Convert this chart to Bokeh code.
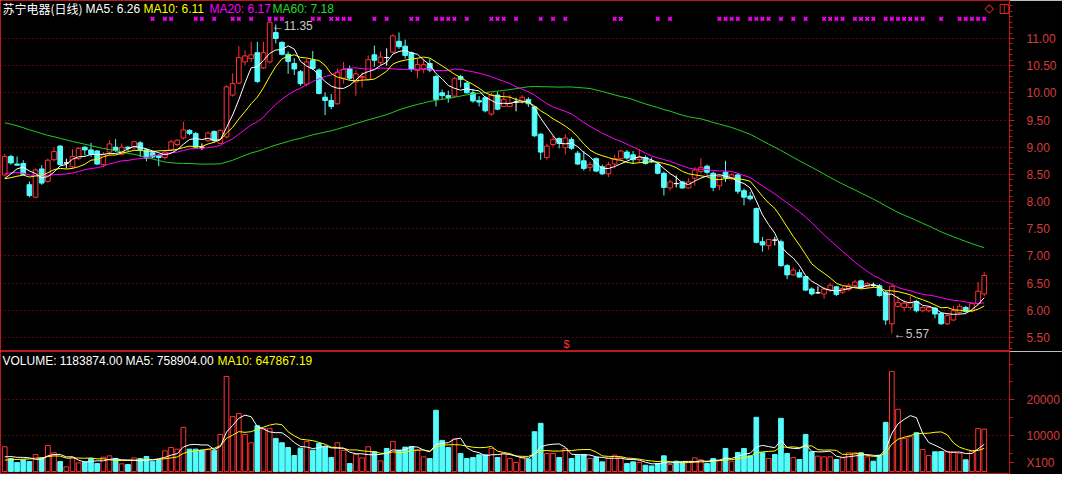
import numpy as np
import pandas as pd
from bokeh.plotting import figure
from bokeh.layouts import column
from bokeh.models import (ColumnDataSource, Range1d, FixedTicker, Label, NumeralTickFormatter,
                          CustomJSTickFormatter)
from bokeh.embed import file_html
from bokeh.resources import INLINE

# ---------------- data ----------------
open_ = [8.49, 8.83, 8.69, 8.70, 8.31, 8.08, 8.60, 8.37, 8.77, 9.02,
         8.71, 8.64, 8.79, 9.00, 8.95, 8.93, 8.68, 8.91, 9.00, 8.87,
         9.00, 8.99, 9.08, 8.95, 8.90, 8.85, 8.81, 8.95, 9.05, 9.17,
         9.31, 9.25, 9.00, 9.12, 9.29, 9.07, 9.19, 9.96, 10.18, 10.57,
         10.63, 10.74, 10.46, 10.57, 11.11, 10.93, 10.71, 10.54, 10.39, 10.16,
         10.60, 10.42, 9.92, 9.86, 9.80, 10.27, 10.44, 10.20, 10.28, 10.25,
         10.70, 10.56, 10.65, 10.75, 10.95, 10.86, 10.74, 10.41, 10.43, 10.54,
         10.30, 10.00, 9.95, 9.94, 10.30, 10.18, 10.00, 9.86, 9.91, 9.61,
         9.96, 9.75, 9.75, 9.83, 9.85, 9.88, 9.74, 9.24, 8.81, 9.05,
         9.16, 8.99, 9.14, 8.89, 8.75, 8.63, 8.79, 8.64, 8.51, 8.69,
         8.79, 8.91, 8.86, 8.77, 8.81, 8.75, 8.69, 8.52, 8.25, 8.33,
         8.36, 8.25, 8.43, 8.55, 8.65, 8.52, 8.29, 8.54, 8.42, 8.49,
         8.20, 8.10, 7.87, 7.26, 7.19, 7.29, 7.26, 6.82, 6.65, 6.69,
         6.62, 6.39, 6.32, 6.30, 6.37, 6.43, 6.33, 6.38, 6.45, 6.54,
         6.44, 6.46, 6.45, 6.33, 5.75, 6.07, 6.05, 6.05, 6.16, 5.99,
         5.99, 6.04, 5.94, 5.75, 5.82, 5.96, 6.05, 5.99, 6.12, 6.30]
high = [8.88, 8.86, 8.83, 8.76, 8.37, 8.61, 8.67, 8.79, 9.00, 9.04,
        8.79, 8.96, 9.00, 9.02, 9.08, 8.95, 8.91, 9.13, 9.15, 9.07,
        9.02, 9.11, 9.11, 8.98, 8.93, 8.87, 8.93, 9.14, 9.14, 9.47,
        9.33, 9.28, 9.07, 9.29, 9.31, 9.33, 10.14, 10.36, 10.86, 10.78,
        10.94, 10.94, 10.94, 11.35, 11.26, 10.95, 10.76, 10.64, 10.42, 10.62,
        10.77, 10.45, 10.01, 9.98, 10.45, 10.57, 10.50, 10.41, 10.38, 10.69,
        10.87, 10.76, 10.82, 11.08, 11.11, 10.98, 10.76, 10.63, 10.63, 10.63,
        10.33, 10.06, 10.04, 10.29, 10.33, 10.21, 10.07, 9.94, 9.94, 10.00,
        10.02, 10.02, 9.96, 9.91, 9.96, 9.92, 9.76, 9.26, 9.06, 9.21,
        9.18, 9.24, 9.18, 8.93, 8.93, 8.73, 8.81, 8.68, 8.73, 8.86,
        8.95, 8.95, 8.93, 8.96, 8.85, 8.81, 8.73, 8.55, 8.40, 8.48,
        8.38, 8.43, 8.63, 8.80, 8.68, 8.55, 8.50, 8.75, 8.52, 8.52,
        8.24, 8.18, 7.89, 7.35, 7.31, 7.35, 7.30, 6.85, 6.79, 6.75,
        6.64, 6.42, 6.44, 6.43, 6.50, 6.45, 6.44, 6.49, 6.56, 6.56,
        6.52, 6.51, 6.48, 6.36, 6.46, 6.26, 6.19, 6.26, 6.18, 6.07,
        6.08, 6.06, 5.96, 5.93, 6.08, 6.12, 6.08, 6.14, 6.52, 6.70]
low = [8.46, 8.68, 8.66, 8.48, 8.08, 8.06, 8.31, 8.35, 8.74, 8.66,
       8.61, 8.61, 8.76, 8.85, 8.82, 8.67, 8.63, 8.86, 8.91, 8.85,
       8.93, 8.96, 8.82, 8.74, 8.79, 8.65, 8.77, 8.93, 9.02, 9.14,
       9.22, 8.98, 8.95, 9.10, 9.08, 9.06, 9.16, 9.93, 10.16, 10.51,
       10.57, 10.18, 10.44, 10.54, 10.91, 10.69, 10.35, 10.33, 10.13, 10.12,
       10.42, 9.97, 9.59, 9.70, 9.78, 10.17, 10.23, 9.95, 10.10, 10.23,
       10.48, 10.51, 10.50, 10.73, 10.81, 10.63, 10.39, 10.27, 10.36, 10.38,
       9.75, 9.88, 9.82, 9.92, 10.10, 9.99, 9.82, 9.75, 9.64, 9.58,
       9.68, 9.74, 9.74, 9.66, 9.80, 9.74, 9.19, 8.77, 8.77, 9.01,
       8.98, 8.87, 8.95, 8.67, 8.57, 8.55, 8.54, 8.49, 8.45, 8.61,
       8.75, 8.77, 8.69, 8.71, 8.68, 8.71, 8.50, 8.11, 8.20, 8.26,
       8.24, 8.24, 8.29, 8.52, 8.50, 8.19, 8.21, 8.36, 8.39, 8.14,
       7.93, 8.02, 7.23, 7.08, 7.11, 7.19, 6.80, 6.57, 6.63, 6.60,
       6.35, 6.27, 6.30, 6.21, 6.33, 6.26, 6.30, 6.35, 6.44, 6.39,
       6.40, 6.42, 6.25, 5.73, 5.57, 6.05, 5.98, 6.01, 5.96, 5.96,
       5.96, 5.85, 5.73, 5.73, 5.80, 5.93, 5.95, 5.96, 6.10, 6.26]
close = [8.83, 8.71, 8.67, 8.50, 8.11, 8.58, 8.34, 8.76, 8.92, 8.68,
         8.71, 8.83, 8.98, 8.95, 8.87, 8.69, 8.86, 9.06, 8.94, 9.00,
         8.98, 9.10, 8.96, 8.80, 8.82, 8.81, 8.91, 9.10, 9.13, 9.32,
         9.25, 9.00, 9.00, 9.26, 9.12, 9.31, 10.11, 10.17, 10.65, 10.68,
         10.70, 10.21, 10.74, 11.30, 11.00, 10.71, 10.58, 10.44, 10.17, 10.57,
         10.45, 9.99, 9.86, 9.75, 10.38, 10.43, 10.27, 10.35, 10.30, 10.61,
         10.60, 10.66, 10.65, 11.05, 10.85, 10.69, 10.44, 10.52, 10.52, 10.42,
         9.88, 9.95, 9.91, 10.26, 10.25, 10.00, 9.85, 9.83, 9.67, 9.96,
         9.70, 9.88, 9.81, 9.83, 9.92, 9.80, 9.21, 8.91, 9.02, 9.14,
         9.07, 9.17, 8.98, 8.69, 8.61, 8.68, 8.56, 8.51, 8.68, 8.79,
         8.93, 8.80, 8.77, 8.82, 8.70, 8.74, 8.52, 8.26, 8.36, 8.33,
         8.25, 8.36, 8.58, 8.63, 8.54, 8.26, 8.46, 8.44, 8.49, 8.19,
         8.08, 8.05, 7.25, 7.20, 7.30, 7.29, 6.82, 6.65, 6.74, 6.61,
         6.37, 6.30, 6.32, 6.39, 6.46, 6.29, 6.40, 6.46, 6.52, 6.42,
         6.49, 6.46, 6.27, 5.82, 6.44, 6.14, 6.13, 6.14, 5.99, 6.05,
         6.05, 5.93, 5.75, 5.90, 5.99, 6.07, 5.98, 6.12, 6.35, 6.64]
# volume in hundreds (axis unit "X100")
volume = [6920, 3650, 2520, 3270, 2800, 4770, 3830, 7290, 5240, 2800,
          1310, 4020, 2430, 2710, 3650, 2240, 4020, 4390, 3650, 2150,
          1960, 3830, 3650, 4210, 2900, 3270, 5800, 6730, 6260, 12340,
          6260, 6260, 5980, 6260, 5980, 10370, 26540, 15330, 16170, 10370,
          8040, 12810, 12060, 12060, 9260, 8040, 6730, 4490, 6540, 8420,
          5980, 7850, 6920, 3930, 8040, 5890, 2240, 4770, 3830, 6920,
          5520, 2990, 6450, 8420, 5980, 6830, 7010, 5980, 4110, 3650,
          17110, 8700, 6730, 9070, 5050, 3650, 3930, 4680, 4680, 6450,
          3930, 5050, 3650, 2520, 3930, 3500, 11120, 13460, 5050, 5050,
          3930, 6450, 3650, 4580, 4770, 3650, 3930, 2710, 3650, 4580,
          3830, 2240, 2710, 2520, 1780, 1590, 2240, 4390, 1960, 2900,
          2520, 2520, 3830, 3270, 2240, 3650, 3090, 6450, 2900, 5330,
          6450, 4390, 15140, 5240, 3650, 4770, 14860, 5050, 3930, 3370,
          10370, 5520, 4300, 4110, 4110, 3370, 3830, 5240, 5240, 5240,
          4110, 2900, 4580, 13740, 27950, 17380, 9260, 9720, 10840, 6170,
          4500, 5520, 5600, 5600, 5520, 5100, 3300, 5700, 12000, 11838.74]
# estimated closes / volumes before the visible window (needed by the moving averages)
close_history = [10.30, 10.45, 10.60, 10.55, 10.40, 10.60, 10.70, 10.50, 10.35, 10.50,
                 10.60, 10.45, 10.50, 10.40, 10.30, 10.40, 10.25, 10.35, 10.45, 10.30,
                 10.20, 10.40, 10.60, 10.70, 10.50, 10.55, 9.90, 9.70, 9.50, 9.40,
                 9.30, 9.35, 9.20, 9.10, 9.00, 8.30, 8.10, 7.90, 8.00, 8.10,
                 8.40, 8.60, 8.70, 8.80, 8.70, 8.60, 8.50, 8.70, 8.60, 8.50,
                 8.50, 8.40, 8.30, 8.45, 8.40, 8.30, 8.20, 8.35, 8.45]
volume_history = [2100, 2500, 2200, 2400, 2300, 3200, 3600, 3300, 3480]
# header texts
price_header = ["苏宁电器(日线)", "MA5: 6.26", "MA10: 6.11", "MA20: 6.17", "MA60: 7.18"]
volume_header = ["VOLUME: 1183874.00", "MA5: 758904.00", "MA10: 647867.19"]
price_ticks = [5.5, 6.0, 6.5, 7.0, 7.5, 8.0, 8.5, 9.0, 9.5, 10.0, 10.5, 11.0]
volume_ticks = [10000, 20000]
unit_tick = 2400          # where the "X100" unit tag sits on the volume axis
unit_text = "X100"
# bars carrying the magenta signal marks on the top row
signal_idx = [24, 26, 27, 31, 32, 34, 37, 38, 40, 43, 44, 45, 50, 51, 53, 54, 55, 56,
              60, 62, 66, 67, 70, 71, 72, 73, 75, 79, 80, 81, 83, 87, 89, 91, 99, 100,
              106, 108, 116, 117, 118, 119, 121, 122, 123, 124, 126, 128, 130,
              133, 134, 135, 136, 138, 139, 140, 141, 143, 144, 145, 146, 147, 148, 149,
              152, 155, 156, 157, 158, 159]

# ---------------- computations ----------------
o = np.array(open_); h = np.array(high); l = np.array(low); c = np.array(close)
v = np.array(volume, dtype=float)
n = len(c)
x = np.arange(n)


def ma(arr, k, skip):
    return pd.Series(arr).rolling(k, min_periods=1).mean().to_numpy()[skip:]


fc = np.array(close_history + close)
nh = len(close_history)
ma5, ma10, ma20, ma60 = (ma(fc, k, nh) for k in (5, 10, 20, 60))
fv = np.array(volume_history + volume, dtype=float)
nv = len(volume_history)
vma5, vma10 = ma(fv, 5, nv), ma(fv, 10, nv)

UP = "#ff3232"
DOWN = "#54fcfc"
WHITE = "#ffffff"
AXIS_RED = "#c01818"
LABEL_RED = "#d43c3c"
GRID = "#a01414"

line_col, fill_col, vline, vfill = [], [], [], []
for i in range(n):
    if c[i] > o[i]:
        line_col.append(UP); fill_col.append("black")
    elif c[i] < o[i]:
        line_col.append(DOWN); fill_col.append(DOWN)
    else:
        line_col.append(WHITE); fill_col.append(WHITE)
    prev = c[i - 1] if i > 0 else c[i]
    up = c[i] > o[i] or (c[i] == o[i] and c[i] > prev)
    vline.append(UP if up else DOWN)
    vfill.append("black" if up else DOWN)

src = ColumnDataSource(dict(x=x, h=h, l=l, top=np.maximum(o, c), bot=np.minimum(o, c),
                            line=line_col, fill=fill_col, vol=v, vline=vline, vfill=vfill,
                            ma5=ma5, ma10=ma10, ma20=ma20, ma60=ma60, vma5=vma5, vma10=vma10))

W = 1062
PH = 351
VH = 123
xr = Range1d(-0.69, 163.1)
FONT = "Liberation Sans"


def style_axis(fig, ticks, grid_ticks, minor, formatter):
    ax = fig.yaxis[0]
    ax.ticker = FixedTicker(ticks=ticks, minor_ticks=minor)
    fig.ygrid.ticker = FixedTicker(ticks=grid_ticks)
    ax.formatter = formatter
    ax.axis_line_color = AXIS_RED
    ax.major_tick_line_color = AXIS_RED
    ax.minor_tick_line_color = AXIS_RED
    ax.major_tick_in = 0
    ax.major_tick_out = 5
    ax.minor_tick_in = 0
    ax.minor_tick_out = 3
    ax.major_label_text_color = LABEL_RED
    ax.major_label_text_font = FONT
    ax.major_label_text_font_size = "12px"
    ax.major_label_standoff = 12
    fig.ygrid.grid_line_color = GRID
    fig.ygrid.grid_line_dash = "1 3"
    fig.xgrid.visible = False
    fig.outline_line_color = AXIS_RED


# ---------------- price panel ----------------
p = figure(width=W, height=PH, x_range=xr, y_range=Range1d(5.24, 11.70),
           output_backend="svg", toolbar_location=None, x_axis_location=None,
           y_axis_location="right", background_fill_color="black", border_fill_color="black",
           min_border_left=0, min_border_right=50, min_border_top=0, min_border_bottom=0)
minor_p = [round(5.3 + 0.1 * k, 2) for k in range(64)]
style_axis(p, price_ticks, price_ticks, minor_p, NumeralTickFormatter(format="0.00"))

p.segment(x0="x", y0="l", x1="x", y1="h", line_color="line", line_width=1, source=src)
p.vbar(x="x", width=0.76, top="top", bottom="bot", fill_color="fill", line_color="line",
       line_width=1, source=src)
p.line("x", "ma60", color="#22cc22", line_width=1, source=src)
p.line("x", "ma20", color="#ff00ff", line_width=1, source=src)
p.line("x", "ma10", color="#ffff00", line_width=1, source=src)
p.line("x", "ma5", color=WHITE, line_width=1, source=src)

sig_y = p.y_range.end - 0.338
p.scatter(x=signal_idx, y=[sig_y] * len(signal_idx), marker="x", size=5,
          line_color="#ff00ff", line_width=1.5)

ih = int(np.argmax(h)); il = int(np.argmin(l))
p.add_layout(Label(x=ih, y=h[ih], text=f"←{h[ih]:.2f}", x_offset=2, y_offset=-6,
                   text_baseline="middle", text_color="#c8c8c8", text_font=FONT,
                   text_font_size="12px"))
p.add_layout(Label(x=il, y=l[il], text=f"←{l[il]:.2f}", x_offset=2, y_offset=0,
                   text_baseline="middle", text_color="#c8c8c8", text_font=FONT,
                   text_font_size="12px"))

hdr_colors = [WHITE, WHITE, "#ffff00", "#ff00ff", "#22dd22"]
hdr_x = [2, 85, 143, 209, 272]
for t, col, hx in zip(price_header, hdr_colors, hdr_x):
    p.add_layout(Label(x=hx, y=PH - 8, x_units="screen", y_units="screen", text=t,
                       text_color=col, text_baseline="middle",
                       text_font=("Noto Sans CJK SC" if hx == 2 else FONT),
                       text_font_size="12px"))
p.add_layout(Label(x=984, y=PH - 7, x_units="screen", y_units="screen", text="◇",
                   text_color=UP, text_baseline="middle", text_font="DejaVu Sans",
                   text_font_size="12px"))
p.add_layout(Label(x=998, y=PH - 7, x_units="screen", y_units="screen", text="◫",
                   text_color=UP, text_baseline="middle", text_font="DejaVu Sans",
                   text_font_size="12px"))
p.add_layout(Label(x=563, y=8, x_units="screen", y_units="screen", text="$",
                   text_color=UP, text_baseline="middle", text_font=FONT,
                   text_font_size="11px"))

# ---------------- volume panel ----------------
vf = figure(width=W, height=VH, x_range=xr, y_range=Range1d(-815, 33500),
            output_backend="svg", toolbar_location=None, x_axis_location=None,
            y_axis_location="right", background_fill_color="black", border_fill_color="black",
            min_border_left=0, min_border_right=50, min_border_top=0, min_border_bottom=0)
vol_fmt = CustomJSTickFormatter(
    args=dict(ut=unit_tick, utext=unit_text),
    code="return tick == ut ? utext : tick.toFixed(0);")
style_axis(vf, volume_ticks + [unit_tick], volume_ticks, [5000, 15000, 25000, 30000], vol_fmt)
vf.vbar(x="x", width=0.76, top="vol", bottom=0, fill_color="vfill", line_color="vline",
        line_width=1, source=src)
vf.line("x", "vma10", color="#ffff00", line_width=1, source=src)
vf.line("x", "vma5", color=WHITE, line_width=1, source=src)

vh_colors = [WHITE, WHITE, "#ffff00"]
vh_x = [2, 125, 217]
for t, col, hx in zip(volume_header, vh_colors, vh_x):
    vf.add_layout(Label(x=hx, y=VH - 9, x_units="screen", y_units="screen", text=t,
                        text_color=col, text_baseline="middle", text_font=FONT,
                        text_font_size="12px"))

layout = column(p, vf, spacing=0)
open("out.html", "w").write(file_html(layout, INLINE))
